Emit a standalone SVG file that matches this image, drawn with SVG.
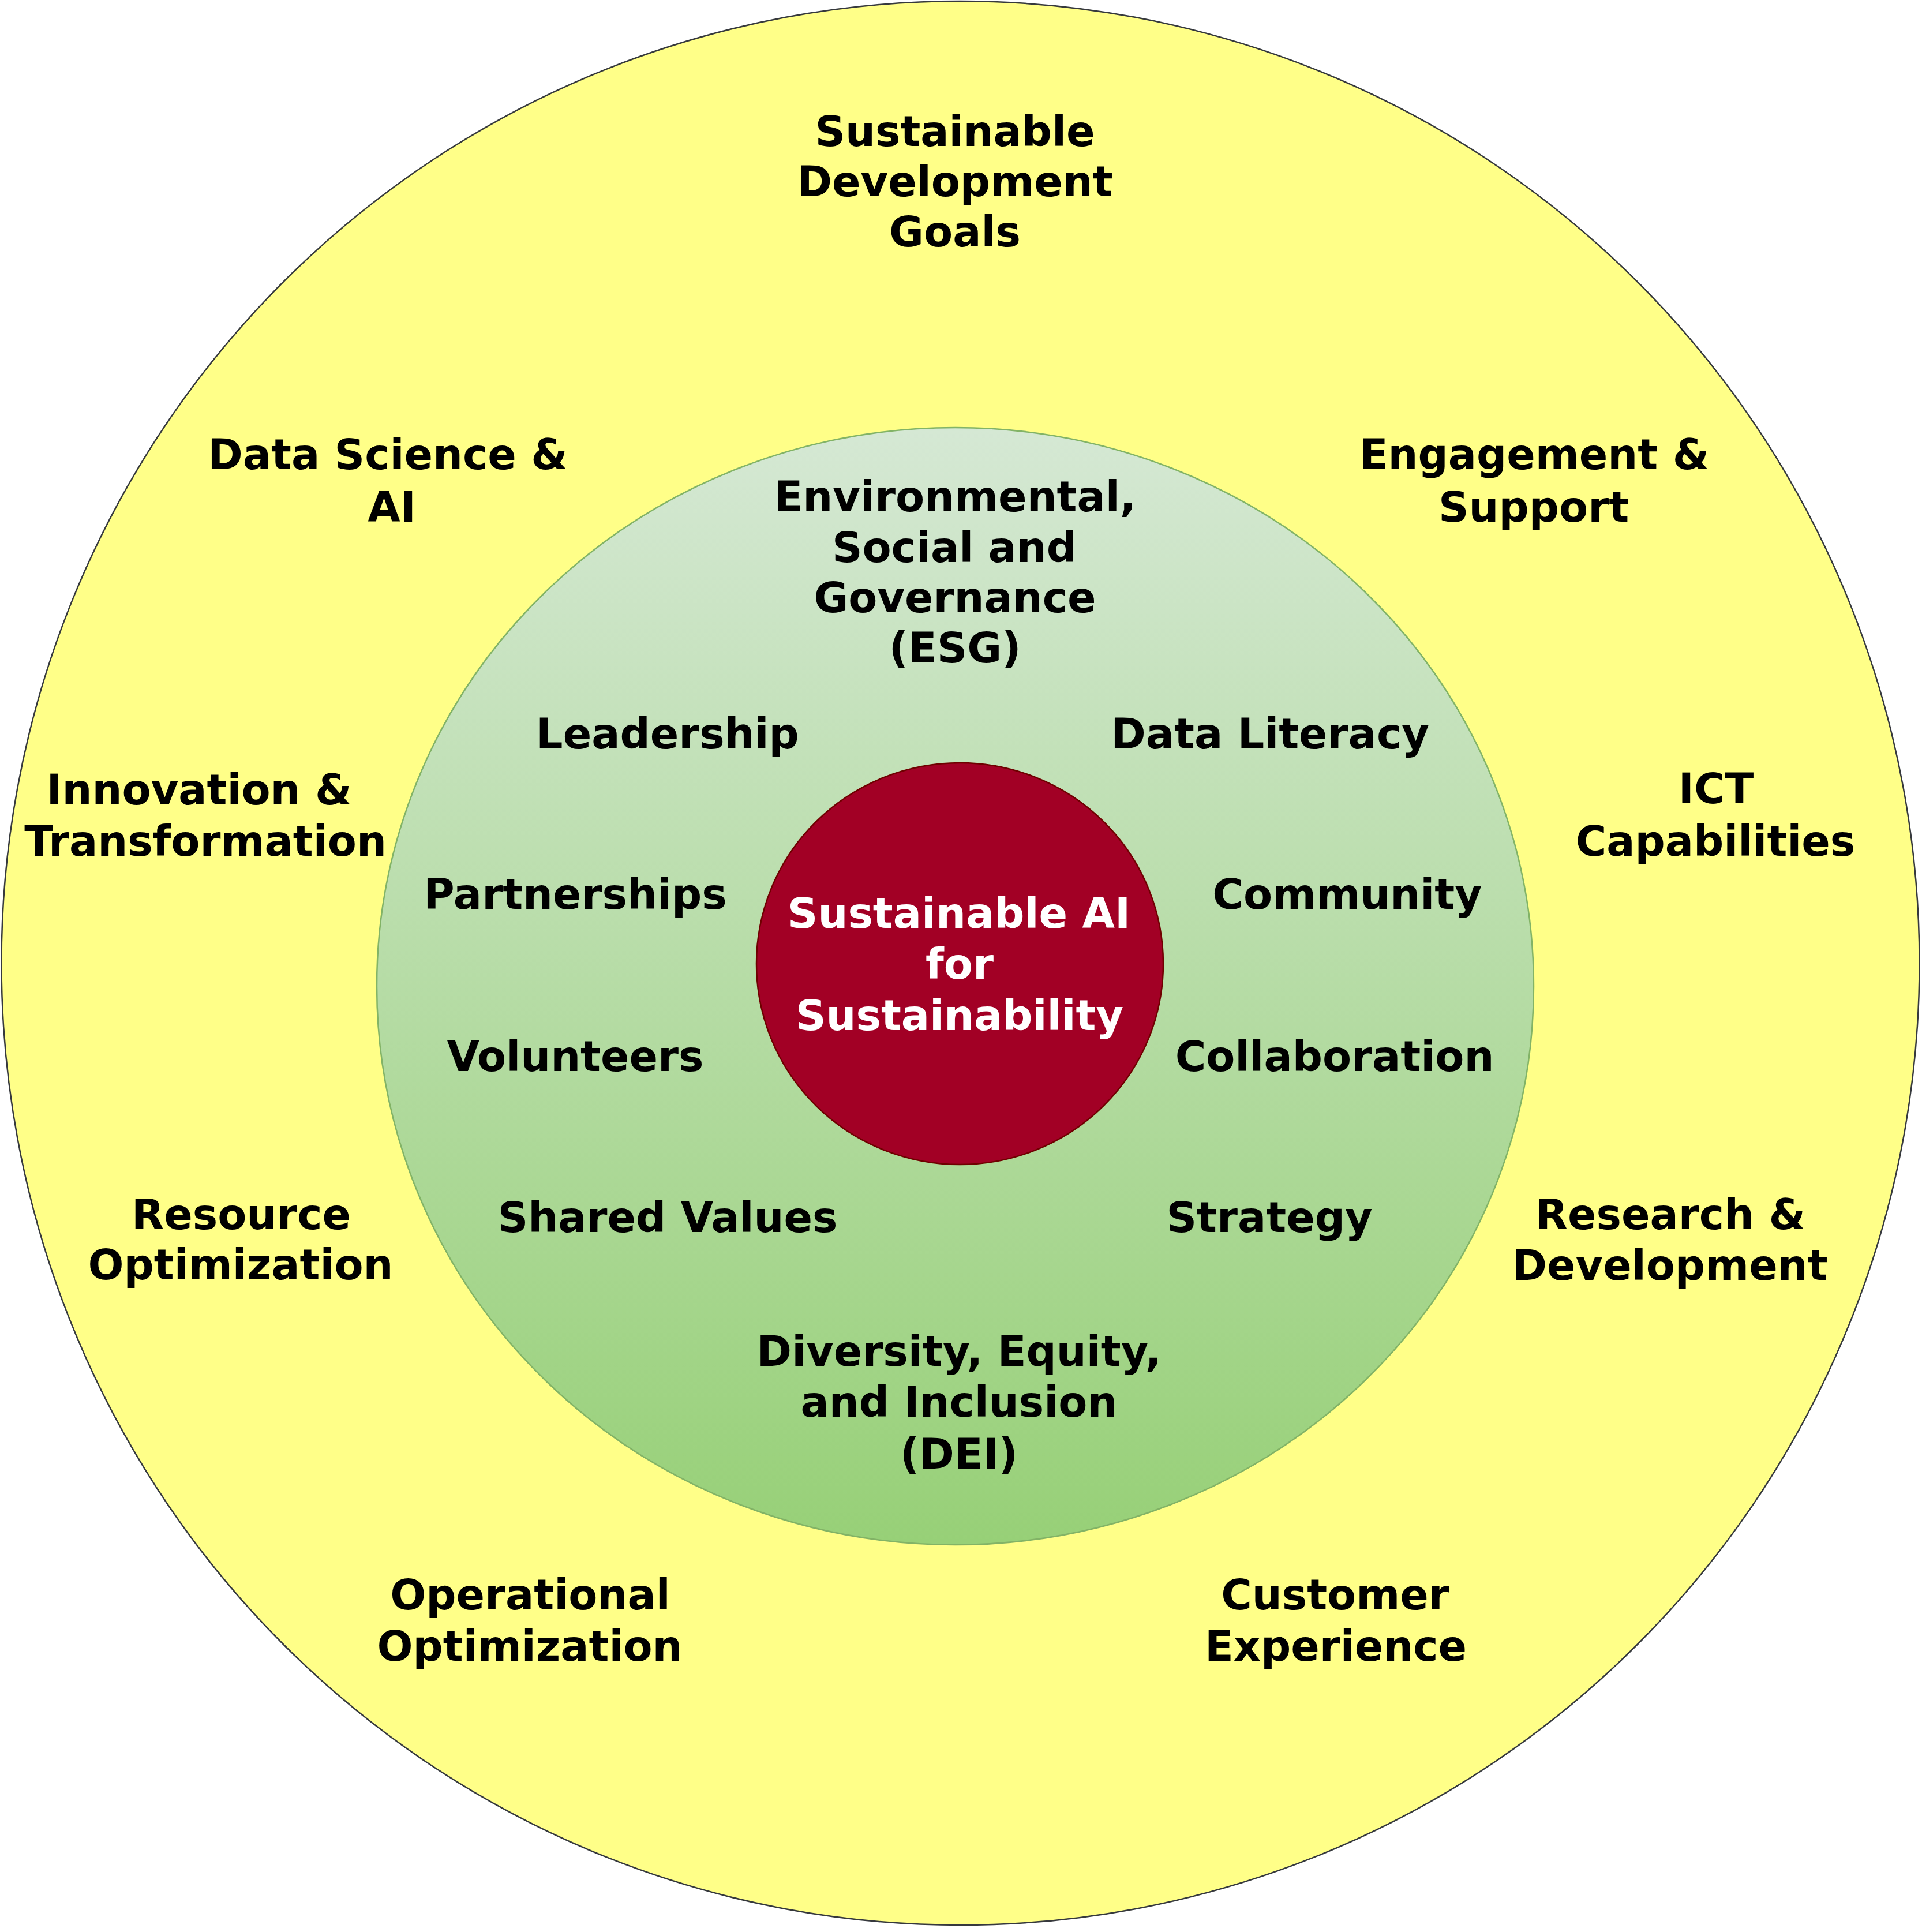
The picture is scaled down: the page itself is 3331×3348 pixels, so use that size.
<svg xmlns="http://www.w3.org/2000/svg" width="3331" height="3348" viewBox="0 0 3331 3348">
<style>
  text { font-family: "DejaVu Sans", Verdana, sans-serif; font-weight: bold; font-size: 73px; text-anchor: middle; fill: #000000; }
  .w { fill: #FFFFFF; }
</style>
<defs>
  <linearGradient id="gGreen" x1="0" y1="0" x2="0" y2="1">
    <stop offset="0" stop-color="#D5E8D4"/>
    <stop offset="1" stop-color="#97D077"/>
  </linearGradient>
</defs>
<rect x="0" y="0" width="3331" height="3348" fill="#FFFFFF"/>
<g id="outer">
  <ellipse cx="1664.5" cy="1669" rx="1662" ry="1667" fill="#FFFF88" stroke="#36393D" stroke-width="2.5"/>
</g>
<g id="middle">
  <ellipse cx="1655.5" cy="1709" rx="1002.5" ry="968" fill="url(#gGreen)" stroke="#82B366" stroke-width="2.5"/>
</g>
<g id="core">
  <ellipse cx="1663.5" cy="1670" rx="352.5" ry="348" fill="#A20025" stroke="#6F0000" stroke-width="2.5"/>
  <text class="w"><tspan x="1662" y="1608">Sustainable AI</tspan><tspan x="1663" y="1696">for</tspan><tspan x="1663" y="1785">Sustainability</tspan></text>
</g>
<g id="connectors"></g>
<g id="outer-labels">
  <g id="sdg"><text><tspan x="1655" y="253">Sustainable</tspan><tspan x="1655" y="340">Development</tspan><tspan x="1655" y="427">Goals</tspan></text></g>
  <g id="dsai"><text><tspan x="672" y="813">Data Science &amp;</tspan><tspan x="679" y="904">AI</tspan></text></g>
  <g id="engagement"><text><tspan x="2659" y="813">Engagement &amp;</tspan><tspan x="2658" y="904">Support</tspan></text></g>
  <g id="innovation"><text><tspan x="345" y="1394">Innovation &amp;</tspan><tspan x="356" y="1483">Transformation</tspan></text></g>
  <g id="ict"><text><tspan x="2974" y="1392">ICT</tspan><tspan x="2973" y="1483">Capabilities</tspan></text></g>
  <g id="resource"><text><tspan x="418" y="2130">Resource</tspan><tspan x="417" y="2217">Optimization</tspan></text></g>
  <g id="research"><text><tspan x="2895" y="2130">Research &amp;</tspan><tspan x="2894" y="2218">Development</tspan></text></g>
  <g id="operational"><text><tspan x="919" y="2789">Operational</tspan><tspan x="918" y="2878">Optimization</tspan></text></g>
  <g id="customer"><text><tspan x="2314" y="2789">Customer</tspan><tspan x="2315" y="2878">Experience</tspan></text></g>
</g>
<g id="middle-labels">
  <g id="esg"><text><tspan x="1655" y="886">Environmental,</tspan><tspan x="1654" y="974">Social and</tspan><tspan x="1655" y="1061">Governance</tspan><tspan x="1655" y="1148">(ESG)</tspan></text></g>
  <g id="leadership"><text x="1157" y="1297">Leadership</text></g>
  <g id="dataliteracy"><text x="2201" y="1297">Data Literacy</text></g>
  <g id="partnerships"><text x="997" y="1575">Partnerships</text></g>
  <g id="community"><text x="2335" y="1575">Community</text></g>
  <g id="volunteers"><text x="997" y="1856">Volunteers</text></g>
  <g id="collaboration"><text x="2313" y="1856">Collaboration</text></g>
  <g id="sharedvalues"><text x="1157" y="2135">Shared Values</text></g>
  <g id="strategy"><text x="2200" y="2135">Strategy</text></g>
  <g id="dei"><text><tspan x="1662" y="2367">Diversity, Equity,</tspan><tspan x="1662" y="2455">and Inclusion</tspan><tspan x="1662" y="2545">(DEI)</tspan></text></g>
</g>
</svg>
